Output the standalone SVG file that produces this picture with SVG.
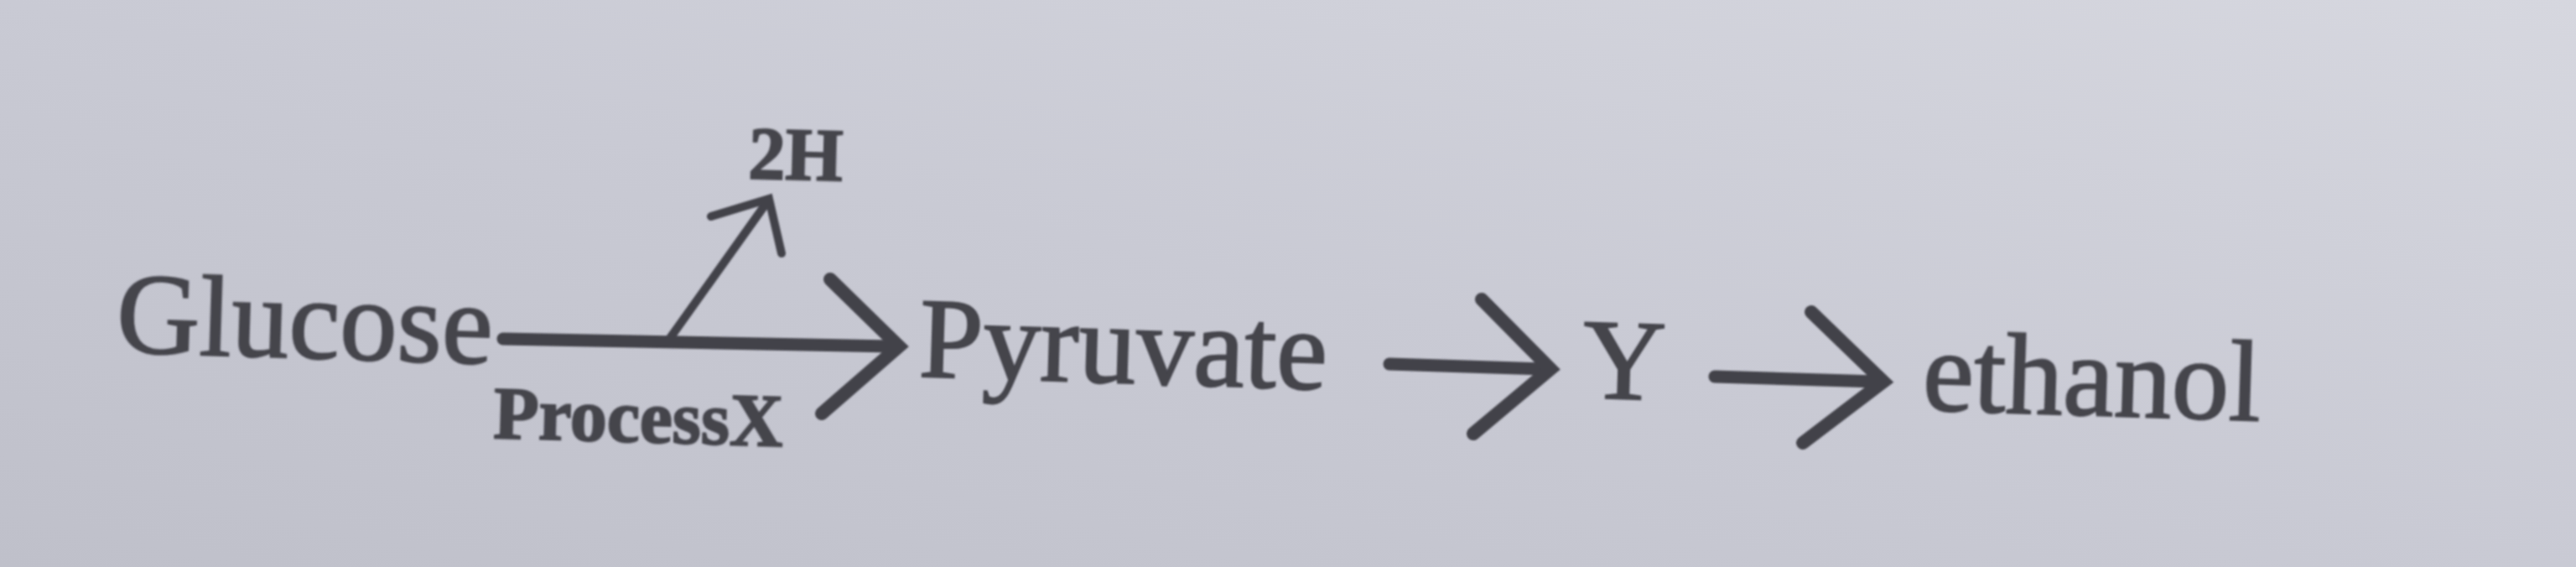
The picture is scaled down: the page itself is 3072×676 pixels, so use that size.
<svg xmlns="http://www.w3.org/2000/svg" width="3072" height="676" viewBox="0 0 3072 676">
  <defs>
    <linearGradient id="paper" x1="0" y1="1" x2="1" y2="0">
      <stop offset="0" stop-color="#bfc0ca"/>
      <stop offset="0.5" stop-color="#c9cad4"/>
      <stop offset="1" stop-color="#d6d7df"/>
    </linearGradient>
    <filter id="soft" x="-5%" y="-20%" width="110%" height="140%">
      <feGaussianBlur stdDeviation="1"/>
    </filter>
    <style>
      .t { font-family: "Liberation Serif", "Times New Roman", serif; fill: #44444b; stroke: #44444b; stroke-width: 2; stroke-linejoin: miter; }
      .big { font-size: 137px; }
      .small { font-size: 88px; font-weight: bold; }
      .ln { stroke: #42424a; fill: none; stroke-linecap: round; stroke-linejoin: miter; }
      .main { stroke-width: 15; }
      .head { stroke-width: 16; }
      .thin { stroke-width: 10; }
    </style>
  </defs>
  <rect width="3072" height="676" fill="url(#paper)"/>

  <g filter="url(#soft)">
    <g id="connectors">
      <g id="glucose-to-pyruvate">
        <line class="ln main" x1="600" y1="404" x2="1064" y2="413"/>
        <polyline class="ln head" points="990,333 1072,413 980,493"/>
      </g>
      <g id="branch-2H">
        <line class="ln thin" x1="797" y1="406" x2="914" y2="242"/>
        <polyline class="ln thin" points="848,258 917,237 932,302"/>
      </g>
      <g id="pyruvate-to-Y">
        <line class="ln main" x1="1657" y1="434" x2="1841" y2="440"/>
        <polyline class="ln head" points="1767,357 1849,440 1757,517"/>
      </g>
      <g id="Y-to-ethanol">
        <line class="ln main" x1="2045" y1="449" x2="2238" y2="455"/>
        <polyline class="ln head" points="2160,372 2246,455 2150,528"/>
      </g>
    </g>

    <g id="glucose">
      <text class="t big" x="138" y="420" transform="rotate(1.8 138 420)">Glucose</text>
    </g>
    <g id="label-2H">
      <text class="t small" x="892" y="212" transform="rotate(1.5 892 212)">2H</text>
    </g>
    <g id="label-processX">
      <text class="t small" x="588" y="522" transform="rotate(1.6 588 522)">ProcessX</text>
    </g>
    <g id="pyruvate">
      <text class="t big" x="1095" y="449" transform="rotate(1.8 1095 449)">Pyruvate</text>
    </g>
    <g id="Y">
      <text class="t big" x="1886" y="474" transform="rotate(1.8 1886 474)">Y</text>
    </g>
    <g id="ethanol">
      <text class="t big" x="2292" y="489" transform="rotate(1.8 2292 489)">ethanol</text>
    </g>
  </g>
</svg>
